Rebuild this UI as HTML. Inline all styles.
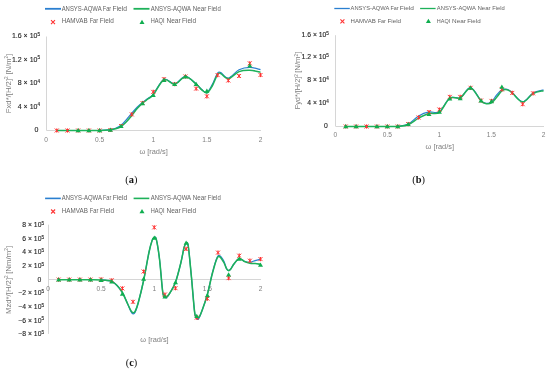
<!DOCTYPE html>
<html><head><meta charset="utf-8"><style>
html,body{margin:0;padding:0;background:#fff;}
svg{display:block;}
text{font-family:"Liberation Sans",Arial,sans-serif;}
.leg{font-size:6.6px;fill:#626262;}
.yt{font-size:7px;fill:#1e1e1e;stroke:#1e1e1e;stroke-width:0.12px;}
.sup{font-size:4.6px;}
.sup2{font-size:0.62em;}
.xt{font-size:6.6px;fill:#7f7f7f;}
.xtitle{font-size:7.4px;fill:#7f7f7f;}
.ytitle{font-size:6.6px;fill:#7f7f7f;}
.cap{font-family:"Liberation Serif",serif;font-size:10.4px;fill:#111;}
</style></head><body>
<svg width="550" height="370" viewBox="0 0 550 370">
<rect width="550" height="370" fill="#fff"/>
<line x1="46.50" y1="36.50" x2="46.50" y2="130.50" stroke="#d6d6d6" stroke-width="1"/>
<line x1="46.50" y1="130.50" x2="261.00" y2="130.50" stroke="#d6d6d6" stroke-width="1"/>
<text x="40.00" y="38.00" text-anchor="end" class="yt" style="font-size:7.00px">1.6 × 10<tspan class="sup" dy="-2.2">5</tspan></text>
<text x="40.00" y="61.50" text-anchor="end" class="yt" style="font-size:7.00px">1.2 × 10<tspan class="sup" dy="-2.2">5</tspan></text>
<text x="40.00" y="85.00" text-anchor="end" class="yt" style="font-size:7.00px">8 × 10<tspan class="sup" dy="-2.2">4</tspan></text>
<text x="40.00" y="108.50" text-anchor="end" class="yt" style="font-size:7.00px">4 × 10<tspan class="sup" dy="-2.2">4</tspan></text>
<text x="38.30" y="132.00" text-anchor="end" class="yt" style="font-size:7.00px">0</text>
<text x="46.00" y="141.60" text-anchor="middle" class="xt">0</text>
<text x="99.62" y="141.60" text-anchor="middle" class="xt">0.5</text>
<text x="153.25" y="141.60" text-anchor="middle" class="xt">1</text>
<text x="206.88" y="141.60" text-anchor="middle" class="xt">1.5</text>
<text x="260.50" y="141.60" text-anchor="middle" class="xt">2</text>
<text x="153.60" y="153.80" text-anchor="middle" class="xtitle">ω [rad/s]</text>
<text transform="translate(10.70,113.20) rotate(-90)" class="ytitle" style="font-size:7.80px" textLength="36.90" lengthAdjust="spacingAndGlyphs">Fxd*/[H/2]<tspan class="sup2" dy="-2.6">2</tspan></text>
<text transform="translate(10.70,74.30) rotate(-90)" class="ytitle" style="font-size:7.80px" textLength="20.50" lengthAdjust="spacingAndGlyphs">[N/m<tspan class="sup2" dy="-2.6">2</tspan><tspan dy="2.6">]</tspan></text>
<g transform="translate(0,0.00)">
<path d="M99.62,130.50 C101.41,130.35 107.67,129.97 110.35,129.60 C113.03,129.23 113.93,129.02 115.71,128.30 C117.50,127.58 119.29,126.75 121.07,125.30 C122.86,123.85 124.65,121.62 126.44,119.60 C128.22,117.58 130.01,115.27 131.80,113.20 C133.59,111.13 135.38,109.00 137.16,107.20 C138.95,105.40 140.74,103.85 142.53,102.40 C144.31,100.95 146.10,99.83 147.89,98.50 C149.67,97.17 150.57,97.62 153.25,94.40 C155.93,91.18 160.40,80.93 163.98,79.20 C167.55,77.47 171.12,84.47 174.70,84.00 C178.27,83.53 181.85,76.40 185.43,76.40 C189.00,76.40 193.47,81.87 196.15,84.00 C198.83,86.13 199.72,87.77 201.51,89.20 C203.30,90.63 205.09,93.37 206.88,92.60 C208.66,91.83 210.45,87.83 212.24,84.60 C214.03,81.37 216.17,75.20 217.60,73.20 C219.03,71.20 219.03,71.80 220.82,72.60 C222.60,73.40 225.29,78.47 228.32,78.00 C231.36,77.53 235.48,71.57 239.05,69.80 C242.62,68.03 246.20,67.43 249.77,67.40 C253.35,67.37 258.71,69.23 260.50,69.60" stroke="#2a7fd0" stroke-width="1.21" fill="none" stroke-linejoin="round"/>
<path d="M56.73,130.50 C58.51,130.50 63.88,130.50 67.45,130.50 C71.03,130.50 74.60,130.50 78.17,130.50 C81.75,130.50 85.33,130.50 88.90,130.50 C92.48,130.50 96.05,130.62 99.62,130.50 C103.20,130.38 107.67,130.08 110.35,129.80 C113.03,129.52 113.93,129.35 115.71,128.80 C117.50,128.25 119.29,127.67 121.07,126.50 C122.86,125.33 124.65,123.65 126.44,121.80 C128.22,119.95 130.01,117.60 131.80,115.40 C133.59,113.20 135.38,110.63 137.16,108.60 C138.95,106.57 140.74,104.80 142.53,103.20 C144.31,101.60 146.10,100.40 147.89,99.00 C149.67,97.60 150.57,98.00 153.25,94.80 C155.93,91.60 160.40,81.55 163.98,79.80 C167.55,78.05 171.12,84.80 174.70,84.30 C178.27,83.80 181.85,76.85 185.43,76.80 C189.00,76.75 193.47,81.87 196.15,84.00 C198.83,86.13 199.72,88.10 201.51,89.60 C203.30,91.10 205.09,93.60 206.88,93.00 C208.66,92.40 210.45,89.10 212.24,86.00 C214.03,82.90 216.17,76.47 217.60,74.40 C219.03,72.33 219.03,72.87 220.82,73.60 C222.60,74.33 225.29,79.13 228.32,78.80 C231.36,78.47 235.48,73.03 239.05,71.60 C242.62,70.17 246.20,70.10 249.77,70.20 C253.35,70.30 258.71,71.87 260.50,72.20" stroke="#1eb15a" stroke-width="1.55" fill="none" stroke-linejoin="round"/>
<path d="M54.73,128.50L58.73,132.50M54.73,132.50L58.73,128.50" stroke="#ff3333" stroke-width="0.95" fill="none"/><path d="M56.73,128.40L56.73,132.60" stroke="#ff3333" stroke-width="1.2" fill="none"/>
<path d="M65.45,128.50L69.45,132.50M65.45,132.50L69.45,128.50" stroke="#ff3333" stroke-width="0.95" fill="none"/><path d="M67.45,128.40L67.45,132.60" stroke="#ff3333" stroke-width="1.2" fill="none"/>
<path d="M76.17,128.50L80.17,132.50M76.17,132.50L80.17,128.50" stroke="#ff3333" stroke-width="0.95" fill="none"/><path d="M78.17,128.40L78.17,132.60" stroke="#ff3333" stroke-width="1.2" fill="none"/>
<path d="M86.90,128.50L90.90,132.50M86.90,132.50L90.90,128.50" stroke="#ff3333" stroke-width="0.95" fill="none"/><path d="M88.90,128.40L88.90,132.60" stroke="#ff3333" stroke-width="1.2" fill="none"/>
<path d="M97.62,128.50L101.62,132.50M97.62,132.50L101.62,128.50" stroke="#ff3333" stroke-width="0.95" fill="none"/><path d="M99.62,128.40L99.62,132.60" stroke="#ff3333" stroke-width="1.2" fill="none"/>
<path d="M108.35,128.00L112.35,132.00M108.35,132.00L112.35,128.00" stroke="#ff3333" stroke-width="0.95" fill="none"/><path d="M110.35,127.90L110.35,132.10" stroke="#ff3333" stroke-width="1.2" fill="none"/>
<path d="M119.07,124.00L123.07,128.00M119.07,128.00L123.07,124.00" stroke="#ff3333" stroke-width="0.95" fill="none"/><path d="M121.07,123.90L121.07,128.10" stroke="#ff3333" stroke-width="1.2" fill="none"/>
<path d="M129.80,112.40L133.80,116.40M129.80,116.40L133.80,112.40" stroke="#ff3333" stroke-width="0.95" fill="none"/><path d="M131.80,112.30L131.80,116.50" stroke="#ff3333" stroke-width="1.2" fill="none"/>
<path d="M140.53,101.00L144.53,105.00M140.53,105.00L144.53,101.00" stroke="#ff3333" stroke-width="0.95" fill="none"/><path d="M142.53,100.90L142.53,105.10" stroke="#ff3333" stroke-width="1.2" fill="none"/>
<path d="M151.25,89.90L155.25,93.90M151.25,93.90L155.25,89.90" stroke="#ff3333" stroke-width="0.95" fill="none"/><path d="M153.25,89.80L153.25,94.00" stroke="#ff3333" stroke-width="1.2" fill="none"/>
<path d="M161.98,77.20L165.98,81.20M161.98,81.20L165.98,77.20" stroke="#ff3333" stroke-width="0.95" fill="none"/><path d="M163.98,77.10L163.98,81.30" stroke="#ff3333" stroke-width="1.2" fill="none"/>
<path d="M172.70,82.10L176.70,86.10M172.70,86.10L176.70,82.10" stroke="#ff3333" stroke-width="0.95" fill="none"/><path d="M174.70,82.00L174.70,86.20" stroke="#ff3333" stroke-width="1.2" fill="none"/>
<path d="M183.43,74.50L187.43,78.50M183.43,78.50L187.43,74.50" stroke="#ff3333" stroke-width="0.95" fill="none"/><path d="M185.43,74.40L185.43,78.60" stroke="#ff3333" stroke-width="1.2" fill="none"/>
<path d="M194.15,86.60L198.15,90.60M194.15,90.60L198.15,86.60" stroke="#ff3333" stroke-width="0.95" fill="none"/><path d="M196.15,86.50L196.15,90.70" stroke="#ff3333" stroke-width="1.2" fill="none"/>
<path d="M204.88,94.30L208.88,98.30M204.88,98.30L208.88,94.30" stroke="#ff3333" stroke-width="0.95" fill="none"/><path d="M206.88,94.20L206.88,98.40" stroke="#ff3333" stroke-width="1.2" fill="none"/>
<path d="M215.60,73.10L219.60,77.10M215.60,77.10L219.60,73.10" stroke="#ff3333" stroke-width="0.95" fill="none"/><path d="M217.60,73.00L217.60,77.20" stroke="#ff3333" stroke-width="1.2" fill="none"/>
<path d="M226.32,78.50L230.32,82.50M226.32,82.50L230.32,78.50" stroke="#ff3333" stroke-width="0.95" fill="none"/><path d="M228.32,78.40L228.32,82.60" stroke="#ff3333" stroke-width="1.2" fill="none"/>
<path d="M237.05,74.00L241.05,78.00M237.05,78.00L241.05,74.00" stroke="#ff3333" stroke-width="0.95" fill="none"/><path d="M239.05,73.90L239.05,78.10" stroke="#ff3333" stroke-width="1.2" fill="none"/>
<path d="M247.77,61.30L251.77,65.30M247.77,65.30L251.77,61.30" stroke="#ff3333" stroke-width="0.95" fill="none"/><path d="M249.77,61.20L249.77,65.40" stroke="#ff3333" stroke-width="1.2" fill="none"/>
<path d="M258.50,73.00L262.50,77.00M258.50,77.00L262.50,73.00" stroke="#ff3333" stroke-width="0.95" fill="none"/><path d="M260.50,72.90L260.50,77.10" stroke="#ff3333" stroke-width="1.2" fill="none"/>
<path d="M78.17,127.95L80.67,132.20L75.67,132.20Z" fill="#0fae4f"/>
<path d="M88.90,127.95L91.40,132.20L86.40,132.20Z" fill="#0fae4f"/>
<path d="M99.62,127.95L102.12,132.20L97.12,132.20Z" fill="#0fae4f"/>
<path d="M110.35,127.45L112.85,131.70L107.85,131.70Z" fill="#0fae4f"/>
<path d="M121.07,123.85L123.57,128.10L118.57,128.10Z" fill="#0fae4f"/>
<path d="M142.53,101.05L145.03,105.30L140.03,105.30Z" fill="#0fae4f"/>
<path d="M153.25,92.65L155.75,96.90L150.75,96.90Z" fill="#0fae4f"/>
<path d="M163.98,77.75L166.48,82.00L161.48,82.00Z" fill="#0fae4f"/>
<path d="M174.70,81.75L177.20,86.00L172.20,86.00Z" fill="#0fae4f"/>
<path d="M185.43,74.25L187.93,78.50L182.93,78.50Z" fill="#0fae4f"/>
<path d="M196.15,81.65L198.65,85.90L193.65,85.90Z" fill="#0fae4f"/>
<path d="M206.88,88.45L209.38,92.70L204.38,92.70Z" fill="#0fae4f"/>
<path d="M249.77,63.25L252.27,67.50L247.27,67.50Z" fill="#0fae4f"/>
</g>
<line x1="45.00" y1="8.80" x2="61.00" y2="8.80" stroke="#2a7fd0" stroke-width="1.80"/>
<text x="61.65" y="11.20" class="leg" style="font-size:6.60px" textLength="40.00" lengthAdjust="spacingAndGlyphs">ANSYS-AQWA</text><text x="102.75" y="11.20" class="leg" style="font-size:6.60px" textLength="8.40" lengthAdjust="spacingAndGlyphs">Far</text><text x="112.55" y="11.20" class="leg" style="font-size:6.60px" textLength="14.50" lengthAdjust="spacingAndGlyphs">Field</text>
<line x1="133.50" y1="8.80" x2="149.50" y2="8.80" stroke="#1eb15a" stroke-width="1.80"/>
<text x="150.75" y="11.20" class="leg" style="font-size:6.60px" textLength="40.30" lengthAdjust="spacingAndGlyphs">ANSYS-AQWA</text><text x="192.65" y="11.20" class="leg" style="font-size:6.60px" textLength="13.60" lengthAdjust="spacingAndGlyphs">Near</text><text x="207.85" y="11.20" class="leg" style="font-size:6.60px" textLength="12.90" lengthAdjust="spacingAndGlyphs">Field</text>
<path d="M51.00,20.20L55.00,24.20M51.00,24.20L55.00,20.20" stroke="#ff3333" stroke-width="1.10" fill="none"/>
<text x="61.65" y="23.40" class="leg" style="font-size:6.60px" textLength="26.00" lengthAdjust="spacingAndGlyphs">HAMVAB</text><text x="89.65" y="23.40" class="leg" style="font-size:6.60px" textLength="8.50" lengthAdjust="spacingAndGlyphs">Far</text><text x="99.85" y="23.40" class="leg" style="font-size:6.60px" textLength="13.90" lengthAdjust="spacingAndGlyphs">Field</text>
<path d="M142.00,19.65L144.50,23.90L139.50,23.90Z" fill="#0fae4f"/>
<text x="150.75" y="23.40" class="leg" style="font-size:6.60px" textLength="13.80" lengthAdjust="spacingAndGlyphs">HAQI</text><text x="166.45" y="23.40" class="leg" style="font-size:6.60px" textLength="14.30" lengthAdjust="spacingAndGlyphs">Near</text><text x="182.05" y="23.40" class="leg" style="font-size:6.60px" textLength="13.90" lengthAdjust="spacingAndGlyphs">Field</text>
<text x="131.40" y="182.60" text-anchor="middle" class="cap">(<tspan font-weight="bold">a</tspan>)</text>
<line x1="335.50" y1="35.20" x2="335.50" y2="126.20" stroke="#d6d6d6" stroke-width="1"/>
<line x1="335.50" y1="126.50" x2="544.00" y2="126.50" stroke="#d6d6d6" stroke-width="1"/>
<text x="328.90" y="36.70" text-anchor="end" class="yt" style="font-size:6.80px">1.6 × 10<tspan class="sup" dy="-2.2">5</tspan></text>
<text x="328.90" y="59.45" text-anchor="end" class="yt" style="font-size:6.80px">1.2 × 10<tspan class="sup" dy="-2.2">5</tspan></text>
<text x="328.90" y="82.20" text-anchor="end" class="yt" style="font-size:6.80px">8 × 10<tspan class="sup" dy="-2.2">4</tspan></text>
<text x="328.90" y="104.95" text-anchor="end" class="yt" style="font-size:6.80px">4 × 10<tspan class="sup" dy="-2.2">4</tspan></text>
<text x="327.90" y="127.70" text-anchor="end" class="yt" style="font-size:6.80px">0</text>
<text x="335.30" y="137.20" text-anchor="middle" class="xt">0</text>
<text x="387.35" y="137.20" text-anchor="middle" class="xt">0.5</text>
<text x="439.40" y="137.20" text-anchor="middle" class="xt">1</text>
<text x="491.45" y="137.20" text-anchor="middle" class="xt">1.5</text>
<text x="543.50" y="137.20" text-anchor="middle" class="xt">2</text>
<text x="439.80" y="148.80" text-anchor="middle" class="xtitle">ω [rad/s]</text>
<text transform="translate(300.40,109.30) rotate(-90)" class="ytitle" style="font-size:7.60px" textLength="35.10" lengthAdjust="spacingAndGlyphs">Fyd*/[H/2]<tspan class="sup2" dy="-2.6">2</tspan></text>
<text transform="translate(300.40,72.80) rotate(-90)" class="ytitle" style="font-size:7.60px" textLength="21.10" lengthAdjust="spacingAndGlyphs">[N/m<tspan class="sup2" dy="-2.6">2</tspan><tspan dy="2.6">]</tspan></text>
<g transform="translate(0,0.30)">
<path d="M387.35,126.20 C389.09,126.17 394.29,126.40 397.76,126.00 C401.23,125.60 404.70,125.53 408.17,123.80 C411.64,122.07 415.11,117.63 418.58,115.60 C422.05,113.57 425.52,112.30 428.99,111.60 C432.46,110.90 435.93,113.73 439.40,111.40 C442.87,109.07 446.34,99.93 449.81,97.60 C453.28,95.27 456.75,99.10 460.22,97.40 C463.69,95.70 467.16,86.90 470.63,87.40 C474.10,87.90 478.44,97.80 481.04,100.40 C483.64,103.00 484.51,102.80 486.25,103.00 C487.98,103.20 489.71,103.00 491.45,101.60 C493.19,100.20 494.92,96.63 496.65,94.60 C498.39,92.57 500.12,90.33 501.86,89.40 C503.60,88.47 505.33,88.52 507.06,89.00 C508.80,89.48 509.67,90.23 512.27,92.30 C514.87,94.37 519.21,101.35 522.68,101.40 C526.15,101.45 529.62,94.57 533.09,92.60 C536.56,90.63 541.76,90.10 543.50,89.60" stroke="#2a7fd0" stroke-width="1.17" fill="none" stroke-linejoin="round"/>
<path d="M345.71,126.20 C347.45,126.20 352.65,126.20 356.12,126.20 C359.59,126.20 363.06,126.20 366.53,126.20 C370.00,126.20 373.47,126.20 376.94,126.20 C380.41,126.20 383.88,126.23 387.35,126.20 C390.82,126.17 394.29,126.30 397.76,126.00 C401.23,125.70 404.70,125.77 408.17,124.40 C411.64,123.03 415.11,119.67 418.58,117.80 C422.05,115.93 425.52,114.17 428.99,113.20 C432.46,112.23 435.93,114.57 439.40,112.00 C442.87,109.43 446.34,100.20 449.81,97.80 C453.28,95.40 456.75,99.30 460.22,97.60 C463.69,95.90 467.16,87.10 470.63,87.60 C474.10,88.10 478.44,97.97 481.04,100.60 C483.64,103.23 484.51,103.07 486.25,103.40 C487.98,103.73 489.71,103.67 491.45,102.60 C493.19,101.53 494.92,99.00 496.65,97.00 C498.39,95.00 500.12,91.87 501.86,90.60 C503.60,89.33 505.33,89.07 507.06,89.40 C508.80,89.73 509.67,90.53 512.27,92.60 C514.87,94.67 519.21,101.70 522.68,101.80 C526.15,101.90 529.62,95.10 533.09,93.20 C536.56,91.30 541.76,90.87 543.50,90.40" stroke="#1eb15a" stroke-width="1.50" fill="none" stroke-linejoin="round"/>
<path d="M343.71,124.20L347.71,128.20M343.71,128.20L347.71,124.20" stroke="#ff3333" stroke-width="0.95" fill="none"/><path d="M345.71,124.10L345.71,128.30" stroke="#ff3333" stroke-width="1.2" fill="none"/>
<path d="M354.12,124.20L358.12,128.20M354.12,128.20L358.12,124.20" stroke="#ff3333" stroke-width="0.95" fill="none"/><path d="M356.12,124.10L356.12,128.30" stroke="#ff3333" stroke-width="1.2" fill="none"/>
<path d="M364.53,124.20L368.53,128.20M364.53,128.20L368.53,124.20" stroke="#ff3333" stroke-width="0.95" fill="none"/><path d="M366.53,124.10L366.53,128.30" stroke="#ff3333" stroke-width="1.2" fill="none"/>
<path d="M374.94,124.20L378.94,128.20M374.94,128.20L378.94,124.20" stroke="#ff3333" stroke-width="0.95" fill="none"/><path d="M376.94,124.10L376.94,128.30" stroke="#ff3333" stroke-width="1.2" fill="none"/>
<path d="M385.35,124.20L389.35,128.20M385.35,128.20L389.35,124.20" stroke="#ff3333" stroke-width="0.95" fill="none"/><path d="M387.35,124.10L387.35,128.30" stroke="#ff3333" stroke-width="1.2" fill="none"/>
<path d="M395.76,124.20L399.76,128.20M395.76,128.20L399.76,124.20" stroke="#ff3333" stroke-width="0.95" fill="none"/><path d="M397.76,124.10L397.76,128.30" stroke="#ff3333" stroke-width="1.2" fill="none"/>
<path d="M406.17,121.80L410.17,125.80M406.17,125.80L410.17,121.80" stroke="#ff3333" stroke-width="0.95" fill="none"/><path d="M408.17,121.70L408.17,125.90" stroke="#ff3333" stroke-width="1.2" fill="none"/>
<path d="M416.58,115.20L420.58,119.20M416.58,119.20L420.58,115.20" stroke="#ff3333" stroke-width="0.95" fill="none"/><path d="M418.58,115.10L418.58,119.30" stroke="#ff3333" stroke-width="1.2" fill="none"/>
<path d="M426.99,109.80L430.99,113.80M426.99,113.80L430.99,109.80" stroke="#ff3333" stroke-width="0.95" fill="none"/><path d="M428.99,109.70L428.99,113.90" stroke="#ff3333" stroke-width="1.2" fill="none"/>
<path d="M437.40,107.20L441.40,111.20M437.40,111.20L441.40,107.20" stroke="#ff3333" stroke-width="0.95" fill="none"/><path d="M439.40,107.10L439.40,111.30" stroke="#ff3333" stroke-width="1.2" fill="none"/>
<path d="M447.81,94.60L451.81,98.60M447.81,98.60L451.81,94.60" stroke="#ff3333" stroke-width="0.95" fill="none"/><path d="M449.81,94.50L449.81,98.70" stroke="#ff3333" stroke-width="1.2" fill="none"/>
<path d="M458.22,94.60L462.22,98.60M458.22,98.60L462.22,94.60" stroke="#ff3333" stroke-width="0.95" fill="none"/><path d="M460.22,94.50L460.22,98.70" stroke="#ff3333" stroke-width="1.2" fill="none"/>
<path d="M468.63,85.50L472.63,89.50M468.63,89.50L472.63,85.50" stroke="#ff3333" stroke-width="0.95" fill="none"/><path d="M470.63,85.40L470.63,89.60" stroke="#ff3333" stroke-width="1.2" fill="none"/>
<path d="M479.04,98.20L483.04,102.20M479.04,102.20L483.04,98.20" stroke="#ff3333" stroke-width="0.95" fill="none"/><path d="M481.04,98.10L481.04,102.30" stroke="#ff3333" stroke-width="1.2" fill="none"/>
<path d="M489.45,98.60L493.45,102.60M489.45,102.60L493.45,98.60" stroke="#ff3333" stroke-width="0.95" fill="none"/><path d="M491.45,98.50L491.45,102.70" stroke="#ff3333" stroke-width="1.2" fill="none"/>
<path d="M499.86,87.20L503.86,91.20M499.86,91.20L503.86,87.20" stroke="#ff3333" stroke-width="0.95" fill="none"/><path d="M501.86,87.10L501.86,91.30" stroke="#ff3333" stroke-width="1.2" fill="none"/>
<path d="M510.27,90.60L514.27,94.60M510.27,94.60L514.27,90.60" stroke="#ff3333" stroke-width="0.95" fill="none"/><path d="M512.27,90.50L512.27,94.70" stroke="#ff3333" stroke-width="1.2" fill="none"/>
<path d="M520.68,101.90L524.68,105.90M520.68,105.90L524.68,101.90" stroke="#ff3333" stroke-width="0.95" fill="none"/><path d="M522.68,101.80L522.68,106.00" stroke="#ff3333" stroke-width="1.2" fill="none"/>
<path d="M531.09,91.00L535.09,95.00M531.09,95.00L535.09,91.00" stroke="#ff3333" stroke-width="0.95" fill="none"/><path d="M533.09,90.90L533.09,95.10" stroke="#ff3333" stroke-width="1.2" fill="none"/>
<path d="M345.71,123.65L348.21,127.90L343.21,127.90Z" fill="#0fae4f"/>
<path d="M356.12,123.65L358.62,127.90L353.62,127.90Z" fill="#0fae4f"/>
<path d="M376.94,123.65L379.44,127.90L374.44,127.90Z" fill="#0fae4f"/>
<path d="M387.35,123.65L389.85,127.90L384.85,127.90Z" fill="#0fae4f"/>
<path d="M397.76,123.65L400.26,127.90L395.26,127.90Z" fill="#0fae4f"/>
<path d="M408.17,121.45L410.67,125.70L405.67,125.70Z" fill="#0fae4f"/>
<path d="M428.99,111.45L431.49,115.70L426.49,115.70Z" fill="#0fae4f"/>
<path d="M439.40,109.25L441.90,113.50L436.90,113.50Z" fill="#0fae4f"/>
<path d="M449.81,95.85L452.31,100.10L447.31,100.10Z" fill="#0fae4f"/>
<path d="M460.22,95.65L462.72,99.90L457.72,99.90Z" fill="#0fae4f"/>
<path d="M470.63,85.25L473.13,89.50L468.13,89.50Z" fill="#0fae4f"/>
<path d="M481.04,98.05L483.54,102.30L478.54,102.30Z" fill="#0fae4f"/>
<path d="M491.45,98.65L493.95,102.90L488.95,102.90Z" fill="#0fae4f"/>
<path d="M501.86,84.25L504.36,88.50L499.36,88.50Z" fill="#0fae4f"/>
</g>
<line x1="334.30" y1="8.50" x2="349.80" y2="8.50" stroke="#2a7fd0" stroke-width="1.30"/>
<text x="350.55" y="10.00" class="leg" style="font-size:6.10px" textLength="38.78" lengthAdjust="spacingAndGlyphs">ANSYS-AQWA</text><text x="390.38" y="10.00" class="leg" style="font-size:6.10px" textLength="8.16" lengthAdjust="spacingAndGlyphs">Far</text><text x="399.87" y="10.00" class="leg" style="font-size:6.10px" textLength="14.07" lengthAdjust="spacingAndGlyphs">Field</text>
<line x1="420.10" y1="8.50" x2="435.60" y2="8.50" stroke="#1eb15a" stroke-width="1.30"/>
<text x="436.85" y="10.00" class="leg" style="font-size:6.10px" textLength="39.07" lengthAdjust="spacingAndGlyphs">ANSYS-AQWA</text><text x="477.45" y="10.00" class="leg" style="font-size:6.10px" textLength="13.19" lengthAdjust="spacingAndGlyphs">Near</text><text x="492.18" y="10.00" class="leg" style="font-size:6.10px" textLength="12.52" lengthAdjust="spacingAndGlyphs">Field</text>
<path d="M340.40,19.30L344.40,23.30M340.40,23.30L344.40,19.30" stroke="#ff3333" stroke-width="1.10" fill="none"/>
<text x="350.55" y="22.70" class="leg" style="font-size:6.10px" textLength="25.21" lengthAdjust="spacingAndGlyphs">HAMVAB</text><text x="377.68" y="22.70" class="leg" style="font-size:6.10px" textLength="8.25" lengthAdjust="spacingAndGlyphs">Far</text><text x="387.57" y="22.70" class="leg" style="font-size:6.10px" textLength="13.48" lengthAdjust="spacingAndGlyphs">Field</text>
<path d="M428.40,18.75L430.90,23.00L425.90,23.00Z" fill="#0fae4f"/>
<text x="436.85" y="22.70" class="leg" style="font-size:6.10px" textLength="13.39" lengthAdjust="spacingAndGlyphs">HAQI</text><text x="452.06" y="22.70" class="leg" style="font-size:6.10px" textLength="13.87" lengthAdjust="spacingAndGlyphs">Near</text><text x="467.18" y="22.70" class="leg" style="font-size:6.10px" textLength="13.48" lengthAdjust="spacingAndGlyphs">Field</text>
<text x="418.60" y="182.60" text-anchor="middle" class="cap">(<tspan font-weight="bold">b</tspan>)</text>
<line x1="48.50" y1="224.70" x2="48.50" y2="333.90" stroke="#d6d6d6" stroke-width="1"/>
<line x1="48.50" y1="279.50" x2="261.00" y2="279.50" stroke="#d6d6d6" stroke-width="1"/>
<text x="44.00" y="227.10" text-anchor="end" class="yt" style="font-size:6.80px">8 × 10<tspan class="sup" dy="-2.2">5</tspan></text>
<text x="44.00" y="240.75" text-anchor="end" class="yt" style="font-size:6.80px">6 × 10<tspan class="sup" dy="-2.2">5</tspan></text>
<text x="44.00" y="254.40" text-anchor="end" class="yt" style="font-size:6.80px">4 × 10<tspan class="sup" dy="-2.2">5</tspan></text>
<text x="44.00" y="268.05" text-anchor="end" class="yt" style="font-size:6.80px">2 × 10<tspan class="sup" dy="-2.2">5</tspan></text>
<text x="41.20" y="281.70" text-anchor="end" class="yt" style="font-size:6.80px">0</text>
<text x="44.00" y="295.35" text-anchor="end" class="yt" style="font-size:6.80px">−2 × 10<tspan class="sup" dy="-2.2">5</tspan></text>
<text x="44.00" y="309.00" text-anchor="end" class="yt" style="font-size:6.80px">−4 × 10<tspan class="sup" dy="-2.2">5</tspan></text>
<text x="44.00" y="322.65" text-anchor="end" class="yt" style="font-size:6.80px">−6 × 10<tspan class="sup" dy="-2.2">5</tspan></text>
<text x="44.00" y="336.30" text-anchor="end" class="yt" style="font-size:6.80px">−8 × 10<tspan class="sup" dy="-2.2">5</tspan></text>
<text x="48.00" y="290.50" text-anchor="middle" class="xt">0</text>
<text x="101.12" y="290.50" text-anchor="middle" class="xt">0.5</text>
<text x="154.25" y="290.50" text-anchor="middle" class="xt">1</text>
<text x="207.38" y="290.50" text-anchor="middle" class="xt">1.5</text>
<text x="260.50" y="290.50" text-anchor="middle" class="xt">2</text>
<text x="154.50" y="342.40" text-anchor="middle" class="xtitle">ω [rad/s]</text>
<text transform="translate(10.80,314.00) rotate(-90)" class="ytitle" style="font-size:8.00px" textLength="38.70" lengthAdjust="spacingAndGlyphs">Mzd*/[H/2]<tspan class="sup2" dy="-2.6">2</tspan></text>
<text transform="translate(10.80,273.80) rotate(-90)" class="ytitle" style="font-size:8.00px" textLength="27.90" lengthAdjust="spacingAndGlyphs">[Nm/m<tspan class="sup2" dy="-2.6">2</tspan><tspan dy="2.6">]</tspan></text>
<g transform="translate(0,0.00)">
<path d="M101.12,279.90 C102.01,279.98 104.67,280.15 106.44,280.40 C108.21,280.65 109.98,280.55 111.75,281.40 C113.52,282.25 115.29,283.65 117.06,285.50 C118.83,287.35 120.60,289.42 122.38,292.50 C124.15,295.58 126.27,300.85 127.69,304.00 C129.10,307.15 129.99,309.77 130.88,311.40 C131.76,313.03 132.29,313.67 133.00,313.80 C133.71,313.93 134.24,314.08 135.12,312.20 C136.01,310.32 136.90,307.78 138.31,302.50 C139.73,297.22 141.85,288.83 143.62,280.50 C145.40,272.17 147.52,259.18 148.94,252.50 C150.35,245.82 151.24,242.88 152.12,240.40 C153.01,237.92 153.54,237.73 154.25,237.60 C154.96,237.47 155.49,235.95 156.38,239.60 C157.26,243.25 158.50,250.73 159.56,259.50 C160.62,268.27 161.86,285.92 162.75,292.20 C163.64,298.48 164.17,296.37 164.88,297.20 C165.58,298.03 166.11,297.98 167.00,297.20 C167.89,296.42 168.77,295.00 170.19,292.50 C171.60,290.00 173.73,287.12 175.50,282.20 C177.27,277.28 179.40,268.73 180.81,263.00 C182.23,257.27 183.11,251.07 184.00,247.80 C184.89,244.53 185.42,243.67 186.12,243.40 C186.83,243.13 187.36,240.60 188.25,246.20 C189.14,251.80 190.38,266.00 191.44,277.00 C192.50,288.00 193.74,305.27 194.62,312.20 C195.51,319.13 196.04,317.57 196.75,318.60 C197.46,319.63 197.99,319.75 198.88,318.40 C199.76,317.05 200.65,314.48 202.06,310.50 C203.48,306.52 205.60,300.97 207.38,294.50 C209.15,288.03 210.92,278.12 212.69,271.70 C214.46,265.28 216.23,257.95 218.00,256.00 C219.77,254.05 221.90,257.90 223.31,260.00 C224.73,262.10 225.61,266.83 226.50,268.60 C227.39,270.37 227.92,270.53 228.62,270.60 C229.33,270.67 229.86,270.10 230.75,269.00 C231.64,267.90 232.52,265.73 233.94,264.00 C235.35,262.27 237.48,259.02 239.25,258.60 C241.02,258.18 242.79,260.90 244.56,261.50 C246.33,262.10 248.10,262.35 249.88,262.20 C251.65,262.05 253.42,261.10 255.19,260.60 C256.96,260.10 259.61,259.43 260.50,259.20" stroke="#2a7fd0" stroke-width="1.21" fill="none" stroke-linejoin="round"/>
<path d="M58.62,279.80 C60.40,279.80 65.71,279.80 69.25,279.80 C72.79,279.80 76.33,279.80 79.88,279.80 C83.42,279.80 86.96,279.78 90.50,279.80 C94.04,279.82 98.47,279.80 101.12,279.90 C103.78,280.00 104.67,280.15 106.44,280.40 C108.21,280.65 109.98,280.55 111.75,281.40 C113.52,282.25 115.29,283.65 117.06,285.50 C118.83,287.35 120.60,289.42 122.38,292.50 C124.15,295.58 126.27,300.98 127.69,304.00 C129.10,307.02 129.99,309.17 130.88,310.60 C131.76,312.03 132.29,312.47 133.00,312.60 C133.71,312.73 134.24,313.08 135.12,311.40 C136.01,309.72 136.90,307.65 138.31,302.50 C139.73,297.35 141.85,288.83 143.62,280.50 C145.40,272.17 147.52,259.18 148.94,252.50 C150.35,245.82 151.24,242.88 152.12,240.40 C153.01,237.92 153.54,237.73 154.25,237.60 C154.96,237.47 155.49,235.95 156.38,239.60 C157.26,243.25 158.50,250.73 159.56,259.50 C160.62,268.27 161.86,286.02 162.75,292.20 C163.64,298.38 164.17,295.87 164.88,296.60 C165.58,297.33 166.11,297.28 167.00,296.60 C167.89,295.92 168.77,294.90 170.19,292.50 C171.60,290.10 173.73,287.12 175.50,282.20 C177.27,277.28 179.40,268.73 180.81,263.00 C182.23,257.27 183.11,251.07 184.00,247.80 C184.89,244.53 185.42,243.67 186.12,243.40 C186.83,243.13 187.36,240.60 188.25,246.20 C189.14,251.80 190.38,266.00 191.44,277.00 C192.50,288.00 193.74,305.43 194.62,312.20 C195.51,318.97 196.04,316.73 196.75,317.60 C197.46,318.47 197.99,318.58 198.88,317.40 C199.76,316.22 200.65,314.32 202.06,310.50 C203.48,306.68 205.60,300.87 207.38,294.50 C209.15,288.13 210.92,278.58 212.69,272.30 C214.46,266.02 216.23,258.58 218.00,256.80 C219.77,255.02 221.90,259.63 223.31,261.60 C224.73,263.57 225.61,267.10 226.50,268.60 C227.39,270.10 227.92,270.53 228.62,270.60 C229.33,270.67 229.86,270.10 230.75,269.00 C231.64,267.90 232.52,265.73 233.94,264.00 C235.35,262.27 237.48,259.02 239.25,258.60 C241.02,258.18 242.79,260.73 244.56,261.50 C246.33,262.27 248.10,262.87 249.88,263.20 C251.65,263.53 253.42,263.32 255.19,263.50 C256.96,263.68 259.61,264.17 260.50,264.30" stroke="#1eb15a" stroke-width="1.55" fill="none" stroke-linejoin="round"/>
<path d="M56.62,277.60L60.62,281.60M56.62,281.60L60.62,277.60" stroke="#ff3333" stroke-width="0.95" fill="none"/><path d="M58.62,277.50L58.62,281.70" stroke="#ff3333" stroke-width="1.2" fill="none"/>
<path d="M67.25,277.60L71.25,281.60M67.25,281.60L71.25,277.60" stroke="#ff3333" stroke-width="0.95" fill="none"/><path d="M69.25,277.50L69.25,281.70" stroke="#ff3333" stroke-width="1.2" fill="none"/>
<path d="M77.88,277.60L81.88,281.60M77.88,281.60L81.88,277.60" stroke="#ff3333" stroke-width="0.95" fill="none"/><path d="M79.88,277.50L79.88,281.70" stroke="#ff3333" stroke-width="1.2" fill="none"/>
<path d="M88.50,277.60L92.50,281.60M88.50,281.60L92.50,277.60" stroke="#ff3333" stroke-width="0.95" fill="none"/><path d="M90.50,277.50L90.50,281.70" stroke="#ff3333" stroke-width="1.2" fill="none"/>
<path d="M99.12,277.40L103.12,281.40M99.12,281.40L103.12,277.40" stroke="#ff3333" stroke-width="0.95" fill="none"/><path d="M101.12,277.30L101.12,281.50" stroke="#ff3333" stroke-width="1.2" fill="none"/>
<path d="M109.75,278.30L113.75,282.30M109.75,282.30L113.75,278.30" stroke="#ff3333" stroke-width="0.95" fill="none"/><path d="M111.75,278.20L111.75,282.40" stroke="#ff3333" stroke-width="1.2" fill="none"/>
<path d="M120.38,286.40L124.38,290.40M120.38,290.40L124.38,286.40" stroke="#ff3333" stroke-width="0.95" fill="none"/><path d="M122.38,286.30L122.38,290.50" stroke="#ff3333" stroke-width="1.2" fill="none"/>
<path d="M131.00,299.80L135.00,303.80M131.00,303.80L135.00,299.80" stroke="#ff3333" stroke-width="0.95" fill="none"/><path d="M133.00,299.70L133.00,303.90" stroke="#ff3333" stroke-width="1.2" fill="none"/>
<path d="M141.62,269.50L145.62,273.50M141.62,273.50L145.62,269.50" stroke="#ff3333" stroke-width="0.95" fill="none"/><path d="M143.62,269.40L143.62,273.60" stroke="#ff3333" stroke-width="1.2" fill="none"/>
<path d="M152.25,225.40L156.25,229.40M152.25,229.40L156.25,225.40" stroke="#ff3333" stroke-width="0.95" fill="none"/><path d="M154.25,225.30L154.25,229.50" stroke="#ff3333" stroke-width="1.2" fill="none"/>
<path d="M162.88,292.50L166.88,296.50M162.88,296.50L166.88,292.50" stroke="#ff3333" stroke-width="0.95" fill="none"/><path d="M164.88,292.40L164.88,296.60" stroke="#ff3333" stroke-width="1.2" fill="none"/>
<path d="M173.50,286.20L177.50,290.20M173.50,290.20L177.50,286.20" stroke="#ff3333" stroke-width="0.95" fill="none"/><path d="M175.50,286.10L175.50,290.30" stroke="#ff3333" stroke-width="1.2" fill="none"/>
<path d="M184.12,246.90L188.12,250.90M184.12,250.90L188.12,246.90" stroke="#ff3333" stroke-width="0.95" fill="none"/><path d="M186.12,246.80L186.12,251.00" stroke="#ff3333" stroke-width="1.2" fill="none"/>
<path d="M194.75,315.70L198.75,319.70M194.75,319.70L198.75,315.70" stroke="#ff3333" stroke-width="0.95" fill="none"/><path d="M196.75,315.60L196.75,319.80" stroke="#ff3333" stroke-width="1.2" fill="none"/>
<path d="M205.38,296.60L209.38,300.60M205.38,300.60L209.38,296.60" stroke="#ff3333" stroke-width="0.95" fill="none"/><path d="M207.38,296.50L207.38,300.70" stroke="#ff3333" stroke-width="1.2" fill="none"/>
<path d="M216.00,250.60L220.00,254.60M216.00,254.60L220.00,250.60" stroke="#ff3333" stroke-width="0.95" fill="none"/><path d="M218.00,250.50L218.00,254.70" stroke="#ff3333" stroke-width="1.2" fill="none"/>
<path d="M226.62,276.10L230.62,280.10M226.62,280.10L230.62,276.10" stroke="#ff3333" stroke-width="0.95" fill="none"/><path d="M228.62,276.00L228.62,280.20" stroke="#ff3333" stroke-width="1.2" fill="none"/>
<path d="M237.25,253.70L241.25,257.70M237.25,257.70L241.25,253.70" stroke="#ff3333" stroke-width="0.95" fill="none"/><path d="M239.25,253.60L239.25,257.80" stroke="#ff3333" stroke-width="1.2" fill="none"/>
<path d="M247.88,258.70L251.88,262.70M247.88,262.70L251.88,258.70" stroke="#ff3333" stroke-width="0.95" fill="none"/><path d="M249.88,258.60L249.88,262.80" stroke="#ff3333" stroke-width="1.2" fill="none"/>
<path d="M258.50,257.10L262.50,261.10M258.50,261.10L262.50,257.10" stroke="#ff3333" stroke-width="0.95" fill="none"/><path d="M260.50,257.00L260.50,261.20" stroke="#ff3333" stroke-width="1.2" fill="none"/>
<path d="M58.62,277.35L61.12,281.60L56.12,281.60Z" fill="#0fae4f"/>
<path d="M69.25,277.35L71.75,281.60L66.75,281.60Z" fill="#0fae4f"/>
<path d="M79.88,277.35L82.38,281.60L77.38,281.60Z" fill="#0fae4f"/>
<path d="M90.50,277.35L93.00,281.60L88.00,281.60Z" fill="#0fae4f"/>
<path d="M101.12,277.65L103.62,281.90L98.62,281.90Z" fill="#0fae4f"/>
<path d="M111.75,279.25L114.25,283.50L109.25,283.50Z" fill="#0fae4f"/>
<path d="M122.38,291.45L124.88,295.70L119.88,295.70Z" fill="#0fae4f"/>
<path d="M143.62,276.55L146.12,280.80L141.12,280.80Z" fill="#0fae4f"/>
<path d="M154.25,235.45L156.75,239.70L151.75,239.70Z" fill="#0fae4f"/>
<path d="M164.88,294.35L167.38,298.60L162.38,298.60Z" fill="#0fae4f"/>
<path d="M175.50,279.95L178.00,284.20L173.00,284.20Z" fill="#0fae4f"/>
<path d="M186.12,240.45L188.62,244.70L183.62,244.70Z" fill="#0fae4f"/>
<path d="M196.75,313.85L199.25,318.10L194.25,318.10Z" fill="#0fae4f"/>
<path d="M207.38,292.95L209.88,297.20L204.88,297.20Z" fill="#0fae4f"/>
<path d="M228.62,272.25L231.12,276.50L226.12,276.50Z" fill="#0fae4f"/>
<path d="M239.25,256.55L241.75,260.80L236.75,260.80Z" fill="#0fae4f"/>
<path d="M260.50,262.55L263.00,266.80L258.00,266.80Z" fill="#0fae4f"/>
</g>
<line x1="45.10" y1="198.40" x2="60.80" y2="198.40" stroke="#2a7fd0" stroke-width="1.60"/>
<text x="61.85" y="199.50" class="leg" style="font-size:6.60px" textLength="40.00" lengthAdjust="spacingAndGlyphs">ANSYS-AQWA</text><text x="102.95" y="199.50" class="leg" style="font-size:6.60px" textLength="8.40" lengthAdjust="spacingAndGlyphs">Far</text><text x="112.75" y="199.50" class="leg" style="font-size:6.60px" textLength="14.50" lengthAdjust="spacingAndGlyphs">Field</text>
<line x1="133.60" y1="198.40" x2="149.30" y2="198.40" stroke="#1eb15a" stroke-width="1.60"/>
<text x="150.75" y="199.50" class="leg" style="font-size:6.60px" textLength="40.30" lengthAdjust="spacingAndGlyphs">ANSYS-AQWA</text><text x="192.65" y="199.50" class="leg" style="font-size:6.60px" textLength="13.60" lengthAdjust="spacingAndGlyphs">Near</text><text x="207.85" y="199.50" class="leg" style="font-size:6.60px" textLength="12.90" lengthAdjust="spacingAndGlyphs">Field</text>
<path d="M51.10,209.50L55.10,213.50M51.10,213.50L55.10,209.50" stroke="#ff3333" stroke-width="1.10" fill="none"/>
<text x="61.85" y="212.80" class="leg" style="font-size:6.60px" textLength="26.00" lengthAdjust="spacingAndGlyphs">HAMVAB</text><text x="89.85" y="212.80" class="leg" style="font-size:6.60px" textLength="8.50" lengthAdjust="spacingAndGlyphs">Far</text><text x="100.05" y="212.80" class="leg" style="font-size:6.60px" textLength="13.90" lengthAdjust="spacingAndGlyphs">Field</text>
<path d="M142.00,208.95L144.50,213.20L139.50,213.20Z" fill="#0fae4f"/>
<text x="150.75" y="212.80" class="leg" style="font-size:6.60px" textLength="13.80" lengthAdjust="spacingAndGlyphs">HAQI</text><text x="166.45" y="212.80" class="leg" style="font-size:6.60px" textLength="14.30" lengthAdjust="spacingAndGlyphs">Near</text><text x="182.05" y="212.80" class="leg" style="font-size:6.60px" textLength="13.90" lengthAdjust="spacingAndGlyphs">Field</text>
<text x="131.50" y="366.00" text-anchor="middle" class="cap">(<tspan font-weight="bold">c</tspan>)</text>
</svg>
</body></html>
